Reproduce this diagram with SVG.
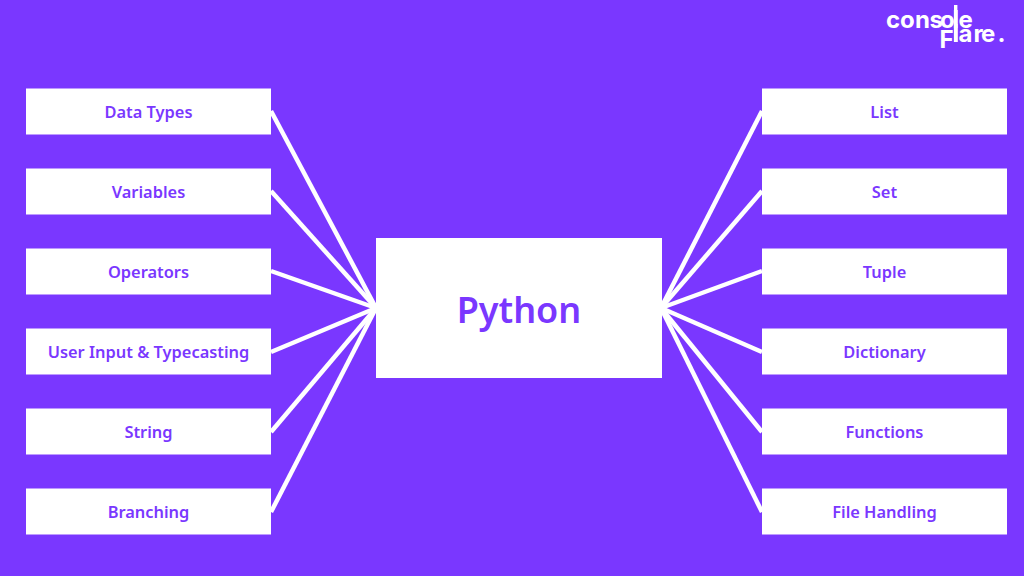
<svg xmlns="http://www.w3.org/2000/svg" width="1024" height="576" viewBox="0 0 1024 576">
<style>
.box{fill:#fff}
.lbl{font-family:"Noto Sans","Open Sans",sans-serif;font-weight:600;font-size:16.400px;fill:#7a37ff;text-anchor:middle}
.title{font-family:"Noto Sans","Open Sans",sans-serif;font-weight:600;font-size:36px;fill:#7a37ff;text-anchor:middle}
.logo{font-family:"Inter","Lato",sans-serif;font-weight:700;font-size:24px;fill:#fff}
.c line{stroke:#fff;stroke-width:4.500;stroke-linecap:butt}
</style>
<rect width="1024" height="576" fill="#7a37ff"/>
<g id="connectors" class="c">
<line x1="271" y1="111" x2="376" y2="308"/>
<line x1="271" y1="191" x2="376" y2="308"/>
<line x1="271" y1="271" x2="376" y2="308"/>
<line x1="271" y1="352" x2="376" y2="308"/>
<line x1="271" y1="432" x2="376" y2="308"/>
<line x1="271" y1="512" x2="376" y2="308"/>
<line x1="762" y1="111" x2="661" y2="308"/>
<line x1="762" y1="191" x2="661" y2="308"/>
<line x1="762" y1="271" x2="661" y2="308"/>
<line x1="762" y1="352" x2="661" y2="308"/>
<line x1="762" y1="432" x2="661" y2="308"/>
<line x1="762" y1="512" x2="661" y2="308"/>
</g>
<g id="python"><rect class="box" x="376" y="238" width="286" height="140"/><text class="title" x="519" y="323">Python</text></g>
<g id="data-types"><rect class="box" x="26" y="88.500" width="245" height="46"/><text class="lbl" x="148.500" y="118">Data Types</text></g>
<g id="variables"><rect class="box" x="26" y="168.500" width="245" height="46"/><text class="lbl" x="148.500" y="198">Variables</text></g>
<g id="operators"><rect class="box" x="26" y="248.500" width="245" height="46"/><text class="lbl" x="148.500" y="278">Operators</text></g>
<g id="user-input"><rect class="box" x="26" y="328.500" width="245" height="46"/><text class="lbl" x="148.500" y="358">User Input &amp; Typecasting</text></g>
<g id="string"><rect class="box" x="26" y="408.500" width="245" height="46"/><text class="lbl" x="148.500" y="438">String</text></g>
<g id="branching"><rect class="box" x="26" y="488.500" width="245" height="46"/><text class="lbl" x="148.500" y="518">Branching</text></g>
<g id="list"><rect class="box" x="762" y="88.500" width="245" height="46"/><text class="lbl" x="884.500" y="118">List</text></g>
<g id="set"><rect class="box" x="762" y="168.500" width="245" height="46"/><text class="lbl" x="884.500" y="198">Set</text></g>
<g id="tuple"><rect class="box" x="762" y="248.500" width="245" height="46"/><text class="lbl" x="884.500" y="278">Tuple</text></g>
<g id="dictionary"><rect class="box" x="762" y="328.500" width="245" height="46"/><text class="lbl" x="884.500" y="358">Dictionary</text></g>
<g id="functions"><rect class="box" x="762" y="408.500" width="245" height="46"/><text class="lbl" x="884.500" y="438">Functions</text></g>
<g id="file-handling"><rect class="box" x="762" y="488.500" width="245" height="46"/><text class="lbl" x="884.500" y="518">File Handling</text></g>
<g id="logo">
<text class="logo" x="886 900 915 929.500 940 952.500 958.500" y="28">console</text>
<text class="logo" x="939.500 952.500 958.500 973.500 981 997.500" y="48 42 42 42 42 42">Flare.</text>
<rect x="954" y="5" width="3.400" height="37" fill="#fff"/>
</g>
</svg>
